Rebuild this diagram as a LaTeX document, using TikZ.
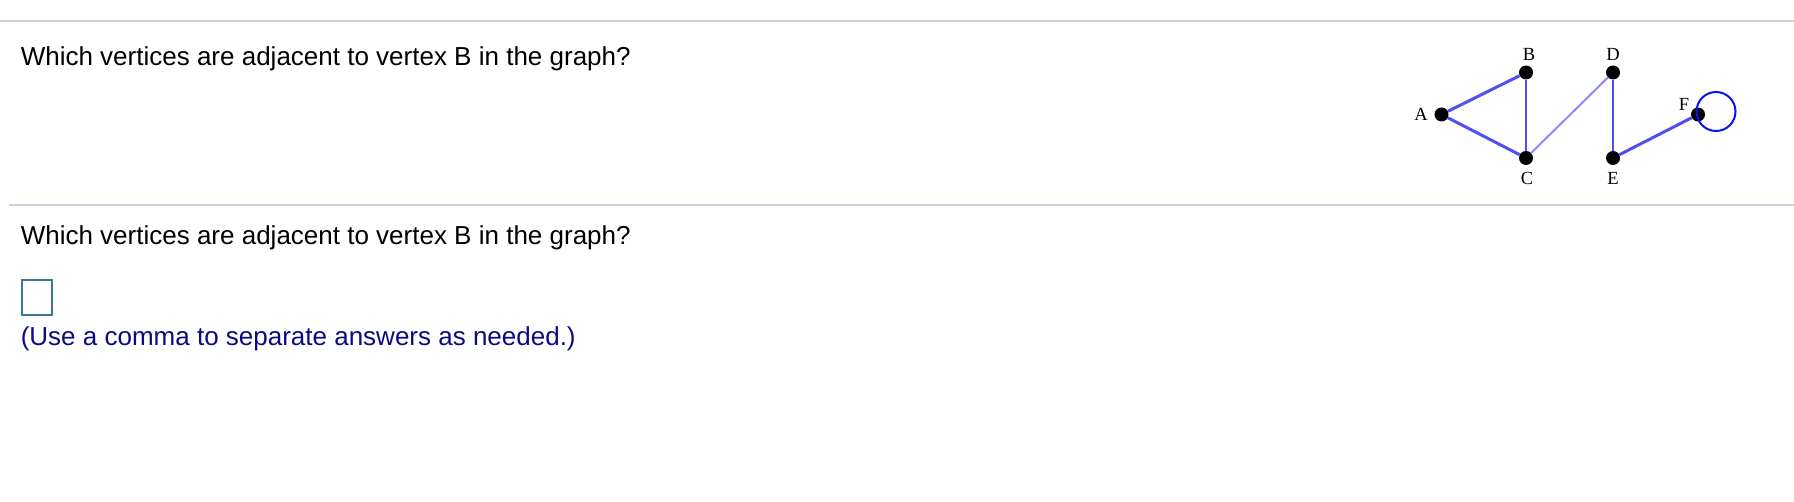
\documentclass[tikz,border=0pt]{standalone}
\usepackage{fontspec}
\setmainfont{Liberation Sans}
\newfontfamily\labelfont{Liberation Serif}
\definecolor{rulegray}{HTML}{CCD0DC}
\definecolor{edgeblue}{HTML}{4F4FF2}
\definecolor{paleblue}{HTML}{8C8CF5}
\definecolor{loopblue}{HTML}{0A14F0}
\definecolor{boxteal}{HTML}{3C7896}
\definecolor{hintnavy}{HTML}{0A0A85}
\tikzset{
	vertex/.style={circle,fill=black,inner sep=0pt,minimum size=14pt},
	vlabel/.style={font=\labelfont\fontsize{18.5}{18.5}\selectfont,inner sep=0pt},
	edge/.style={edgeblue,line width=3pt},
	question/.style={anchor=base west,inner sep=0pt,font=\fontsize{26}{30}\selectfont}
}
\begin{document}
\begin{tikzpicture}[x=1pt,y=-1pt]
			\useasboundingbox (0,0) rectangle (1794,502);
			% rules
			\draw [rulegray,line width=2.3pt] (0,21)--(1794,21);
			\draw [rulegray,line width=2.3pt] (9,205)--(1794,205);
			% texts
			\node [question] (q1) at (20.6,65.2) {Which vertices are adjacent to vertex B in the graph?};
			\node [question] (q2) at (20.6,245) {Which vertices are adjacent to vertex B in the graph?};
			\node [draw=boxteal,line width=2pt,minimum width=30pt,minimum height=35pt,inner sep=0pt] (ans) at (36.5,298) {};
			\node [question,text=hintnavy] (hint) at (20.6,345.5) {(Use a comma to separate answers as needed.)};
			% graph
			\node [vertex] (A) at (1441.5,114.5) {};
			\node [vertex] (B) at (1526,72.5) {};
			\node [vertex] (C) at (1526,158) {};
			\node [vertex] (D) at (1613,72.5) {};
			\node [vertex] (E) at (1613,158) {};
			\node [vertex] (F) at (1698,114.5) {};
			\draw [edge] (A)--(B);
			\draw [edge] (A)--(C);
			\draw [edge,line width=2.5pt] (B)--(C);
			\draw [paleblue,line width=2pt] (C)--(D);
			\draw [edge,line width=2.5pt] (D)--(E);
			\draw [edge] (E)--(F);
			\draw [loopblue,line width=2pt] (F.center) ++(18,-3) circle (19.5pt);
			\node [vlabel] (lA) at (1421,114) {A};
			\node [vlabel] (lB) at (1529,54) {B};
			\node [vlabel] (lC) at (1527,178) {C};
			\node [vlabel] (lD) at (1613,54) {D};
			\node [vlabel] (lE) at (1613,178) {E};
			\node [vlabel] (lF) at (1684,104) {F};
\end{tikzpicture}
\end{document}
